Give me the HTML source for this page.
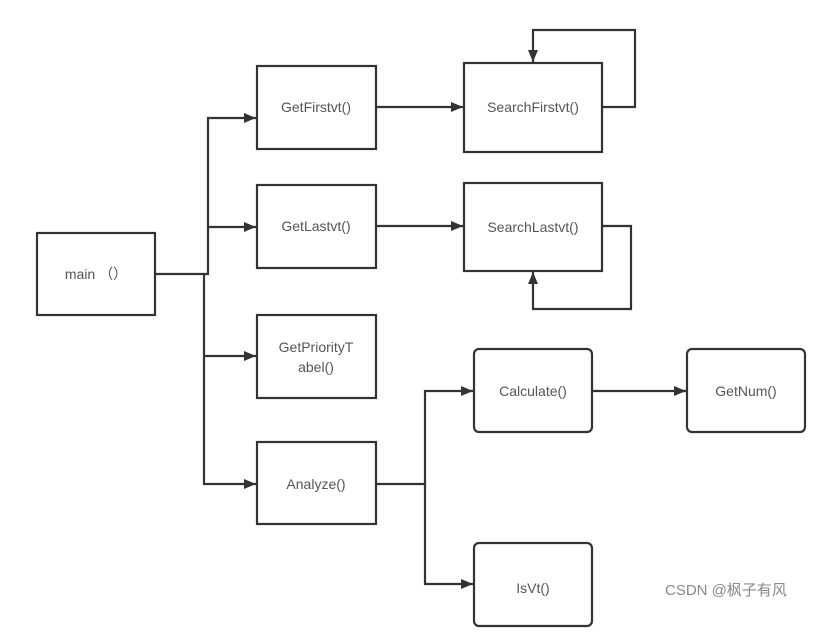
<!DOCTYPE html>
<html><head><meta charset="utf-8"><style>
html,body{margin:0;padding:0;background:#fff;}
svg{display:block;}
text{font-family:"Liberation Sans","Noto Sans CJK SC",sans-serif;font-size:14px;fill:#555;}
</style></head><body>
<svg width="817" height="636" viewBox="0 0 817 636" xmlns="http://www.w3.org/2000/svg">
<defs>
<marker id="a" markerWidth="12" markerHeight="10" refX="12" refY="5" orient="auto" markerUnits="userSpaceOnUse">
<path d="M0,0 L12,5 L0,10 Z" fill="#333"/>
</marker>
</defs>
<g fill="#fff" stroke="#333" stroke-width="2.2">
<rect x="37" y="233" width="118" height="82"/>
<rect x="257" y="66" width="119" height="83"/>
<rect x="257" y="185" width="119" height="83"/>
<rect x="257" y="315" width="119" height="83"/>
<rect x="257" y="442" width="119" height="82"/>
<rect x="464" y="63" width="138" height="89"/>
<rect x="464" y="183" width="138" height="88"/>
<rect x="474" y="349" width="118" height="83" rx="5"/>
<rect x="687" y="349" width="118" height="83" rx="5"/>
<rect x="474" y="543" width="118" height="83" rx="5"/>
</g>
<g fill="none" stroke="#333" stroke-width="2.2">
<polyline points="155,274 208,274 208,118 256,118" marker-end="url(#a)"/>
<polyline points="208,227 256,227" marker-end="url(#a)"/>
<polyline points="204,274 204,484 256,484" marker-end="url(#a)"/>
<polyline points="204,356 256,356" marker-end="url(#a)"/>
<polyline points="376,107 463,107" marker-end="url(#a)"/>
<polyline points="376,226 463,226" marker-end="url(#a)"/>
<polyline points="602,107 635,107 635,30 533,30 533,62" marker-end="url(#a)"/>
<polyline points="602,226 631,226 631,309 533,309 533,272" marker-end="url(#a)"/>
<polyline points="376,484 425,484 425,391 473,391" marker-end="url(#a)"/>
<polyline points="425,484 425,584 473,584" marker-end="url(#a)"/>
<polyline points="592,391 686,391" marker-end="url(#a)"/>
</g>
<text x="96" y="279" text-anchor="middle">main （）</text>
<text x="316" y="112" text-anchor="middle">GetFirstvt()</text>
<text x="316" y="231" text-anchor="middle">GetLastvt()</text>
<text x="316" y="352" text-anchor="middle">GetPriorityT</text>
<text x="316" y="372" text-anchor="middle">abel()</text>
<text x="316" y="489" text-anchor="middle">Analyze()</text>
<text x="533" y="112" text-anchor="middle">SearchFirstvt()</text>
<text x="533" y="232" text-anchor="middle">SearchLastvt()</text>
<text x="533" y="396" text-anchor="middle">Calculate()</text>
<text x="746" y="396" text-anchor="middle">GetNum()</text>
<text x="533" y="593" text-anchor="middle">IsVt()</text>
<text x="665" y="595" style="font-size:15px;fill:#888;">CSDN @枫子有风</text>
</svg>
</body></html>
